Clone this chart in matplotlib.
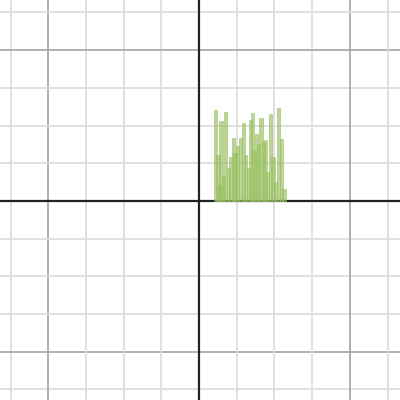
import matplotlib
matplotlib.use("Agg")
import matplotlib.pyplot as plt
import numpy as np

# bar positions (graph units) and heights
bar_x = [0.438, 0.504, 0.544, 0.584, 0.650, 0.703, 0.782, 0.836, 0.907, 0.955,
         1.021, 1.101, 1.175, 1.233, 1.308, 1.366, 1.424, 1.477, 1.531, 1.584,
         1.645, 1.706, 1.764, 1.822, 1.897, 1.963, 2.024, 2.103, 2.188, 2.255]
bar_h = [2.41, 1.22, 0.42, 2.12, 0.66, 2.36, 0.88, 1.17, 1.67, 1.27,
         1.46, 1.67, 2.07, 1.22, 0.88, 2.15, 2.33, 1.35, 1.78, 1.51,
         2.20, 1.56, 1.62, 0.77, 2.31, 1.17, 0.50, 2.47, 1.64, 0.32]

fig = plt.figure(figsize=(4, 4), dpi=100)
ax = fig.add_axes([0, 0, 1, 1])
ax.set_xlim(-5.28, 5.33)
ax.set_ylim(-5.28, 5.33)

# grid: minor every 1, major every 4
for v in range(-6, 7):
    major = v % 4 == 0
    col = '#aaaaaa' if major else '#dddddd'
    if v != 0:
        ax.axvline(v, color=col, lw=1.3, zorder=0)
        ax.axhline(v, color=col, lw=1.3, zorder=0)

ax.axvline(0, color='#222222', lw=1.6, zorder=1)
ax.axhline(0, color='#222222', lw=1.6, zorder=1)

ax.bar(bar_x, bar_h, width=0.09, color='#98bf60', alpha=0.65,
       edgecolor='#98bf60', linewidth=0.6, zorder=2)

ax.axis('off')
fig.savefig('out.png', dpi=100)
